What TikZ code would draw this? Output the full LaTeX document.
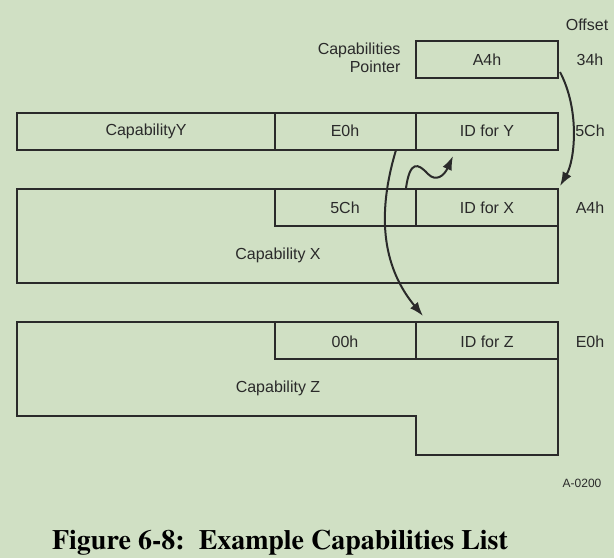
\documentclass[tikz,border=0pt]{standalone}
\usepackage{fontspec}
\setmainfont{Liberation Sans}
\newfontfamily\capfont{TeX Gyre Termes}
\usetikzlibrary{arrows.meta}
\definecolor{bg}{HTML}{D0E0C4}
\definecolor{ln}{HTML}{2A2A2A}
\begin{document}
\begin{tikzpicture}[x=1pt,y=-1pt,
  box/.style={draw=ln,line width=2pt},
  lbl/.style={font=\fontsize{16}{18}\selectfont,text=ln},
  arr/.style={draw=ln,line width=2pt,-{Latex[length=14pt,width=10pt]}}]
\fill[bg] (0,0) rectangle (614,558);
\useasboundingbox (0,0) rectangle (614,558);
% pointer
\draw[box] (416,41) rectangle (558,78);
\node[lbl] (ptr) at (487,60) {A4h};
\node[lbl,align=right,anchor=east,font=\fontsize{16}{18}\selectfont] (ptrl) at (404,58) {Capabilities\\Pointer};
\node[lbl] (off) at (587,25) {Offset};
\node[lbl] (o34) at (590,60) {34h};
% Y
\draw[box] (17,113) rectangle (558,150);
\draw[box] (275,113) -- (275,150) (416,113) -- (416,150);
\node[lbl] (cy) at (146,131) {CapabilityY};
\node[lbl] (e0) at (345,131) {E0h};
\node[lbl] (idy) at (487,131) {ID for Y};
\node[lbl] (o5c) at (590,131) {5Ch};
% X
\draw[box] (17,189) rectangle (558,283);
\draw[box] (275,189) -- (275,226) -- (558,226) (416,189) -- (416,226);
\node[lbl] (x5c) at (345,208) {5Ch};
\node[lbl] (idx) at (487,208) {ID for X};
\node[lbl] (cx) at (278,255) {Capability X};
\node[lbl] (oa4) at (590,208) {A4h};
% Z
\draw[box] (17,322) -- (558,322) -- (558,455) -- (416,455) -- (416,416) -- (17,416) -- cycle;
\draw[box] (275,322) -- (275,359) -- (558,359) (416,322) -- (416,359);
\node[lbl] (z00) at (345,342) {00h};
\node[lbl] (idz) at (487,342) {ID for Z};
\node[lbl] (cz) at (278,388) {Capability Z};
\node[lbl] (oe0) at (590,342) {E0h};
\node[lbl,font=\fontsize{12}{14}\selectfont] (ref) at (582,483) {A-0200};
\node[font=\capfont\bfseries\fontsize{28}{30}\selectfont] (cap) at (280,543) {Figure 6-8:\ \ Example Capabilities List};
% arrows
\coordinate (p1) at (560,72);
\coordinate (p2) at (560,186);
\draw[arr] (p1) .. controls (580,110) and (575,160) .. (p2);
\coordinate (q1) at (396,150);
\coordinate (q2) at (423,316);
\draw[arr] (q1) .. controls (375,220) and (385,270) .. (q2);
\coordinate (w1) at (406,188);
\coordinate (w2) at (453,156);
\draw[arr] (w1) .. controls (410,160) and (418,163) .. (428,174) .. controls (436,182) and (444,176) .. (w2);
\end{tikzpicture}
\end{document}
